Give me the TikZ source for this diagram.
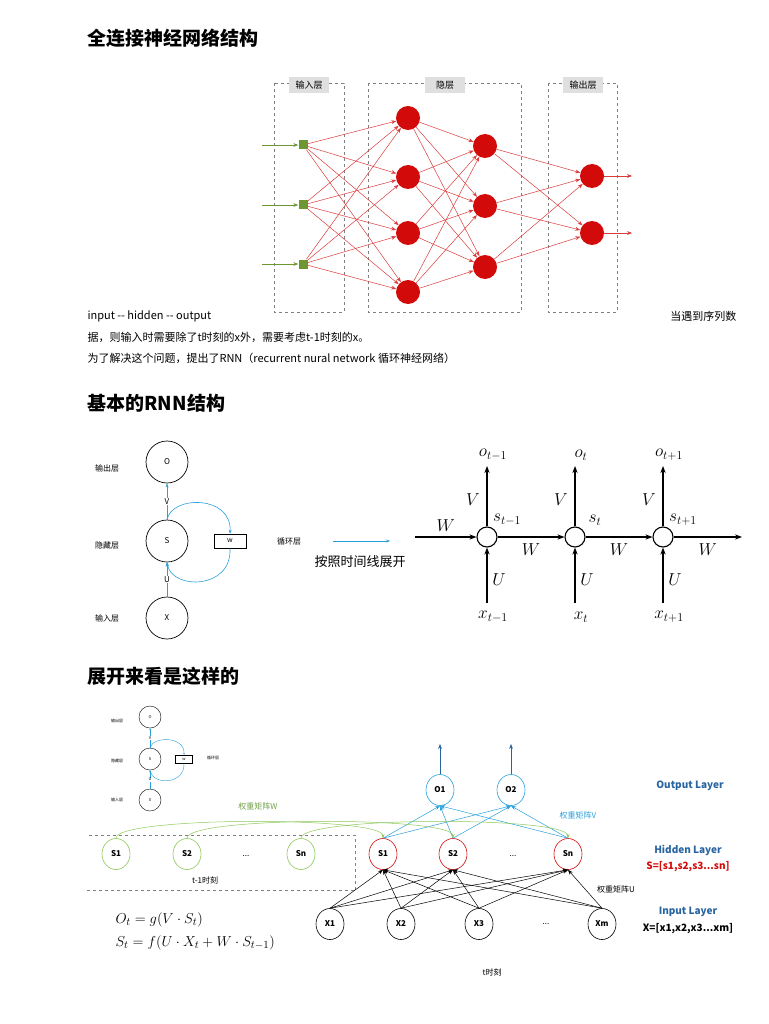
\documentclass[tikz,border=0pt]{standalone}
\usepackage{fontspec}
\setmainfont{Noto Sans CJK SC}
\usetikzlibrary{arrows.meta,shapes.geometric}
\definecolor{nred}{RGB}{210,10,10}
\definecolor{ngreen}{RGB}{110,150,50}
\definecolor{nblue}{RGB}{40,120,190}
\definecolor{ncyan}{RGB}{40,160,220}
\definecolor{lgreen}{RGB}{140,200,90}
\definecolor{ldark}{RGB}{40,100,160}
\tikzset{
 redn/.style={circle,fill=nred,minimum size=24pt,inner sep=0},
 inp/.style={rectangle,fill=ngreen,minimum size=9pt,inner sep=0},
 rl/.style={nred!80,line width=0.5pt,-{Stealth[length=5pt]}},
 lay/.style={draw=gray,dashed,line width=0.6pt},
 tab/.style={fill=gray!25,font=\fontsize{9}{10}\selectfont,minimum width=40pt,minimum height=16pt},
 circ/.style={circle,draw,line width=0.7pt,minimum size=42pt,inner sep=0,font=\fontsize{8}{9}\selectfont},
 bl/.style={ncyan,line width=0.6pt,-{Stealth[length=4pt]}},
 lbl/.style={font=\fontsize{8}{9}\selectfont},
 uc/.style={circle,draw,line width=1.1pt,minimum size=20pt,inner sep=0},
 ua/.style={line width=1.2pt,-{Stealth[length=7pt]}},
 mi/.style={font=\fontsize{17}{18}\selectfont},
 el/.style={ellipse,draw,line width=0.6pt,minimum width=28pt,minimum height=31pt,inner sep=0,font=\fontsize{8}{9}\selectfont\bfseries},
 ka/.style={line width=0.5pt,-{Stealth[length=5pt]}},
 sm/.style={circle,draw,line width=0.4pt,minimum size=22pt,inner sep=0,font=\fontsize{4}{5}\selectfont},
 tiny/.style={font=\fontsize{4}{5}\selectfont},
 lay2/.style={font=\fontsize{10}{12}\selectfont\bfseries,ldark},
}
\begin{document}
\begin{tikzpicture}[x=1pt,y=-1pt]
\useasboundingbox (0,0) rectangle (768,1024);
% headings
\node[anchor=west,font=\fontsize{19}{22}\selectfont\bfseries] (h1) at (84,38) {全连接神经网络结构};
\node[anchor=west,font=\fontsize{19}{22}\selectfont\bfseries] (h2) at (84,403) {基本的RNN结构};
\node[anchor=west,font=\fontsize{19}{22}\selectfont\bfseries] (h3) at (84,676) {展开来看是这样的};
\node[anchor=west,font=\fontsize{11}{13}\selectfont] (t1) at (84,316) {input {-}{-} hidden {-}{-} output};
\node[anchor=east,font=\fontsize{11}{13}\selectfont] (t2) at (740,316) {当遇到序列数};
\node[anchor=west,font=\fontsize{11}{13}\selectfont] (t3) at (84,337) {据，则输入时需要除了t时刻的x外，需要考虑t-1时刻的x。};
\node[anchor=west,font=\fontsize{11}{13}\selectfont] (t4) at (84,358) {为了解决这个问题，提出了RNN（recurrent nural network 循环神经网络）};
% fully connected
\draw[lay] (274,83) rectangle (344,312);
\draw[lay] (368,83) rectangle (521,312);
\draw[lay] (548,83) rectangle (617,312);
\node[tab] (ta) at (309,85) {输入层};
\node[tab] (tb) at (445,85) {隐层};
\node[tab] (tc) at (583,85) {输出层};
\foreach \i/\y in {1/145,2/205,3/264}{\node[inp] (a\i) at (303,\y) {};
 \coordinate (ai\i) at (262,\y);
 \draw[ngreen,line width=0.6pt,-{Stealth[length=5pt]}] (ai\i) -- (a\i);}
\foreach \i/\y in {1/118,2/177,3/233,4/292}{\node[redn] (b\i) at (408,\y) {};}
\foreach \i/\y in {1/146,2/206,3/267}{\node[redn] (c\i) at (485,\y) {};}
\foreach \i/\y in {1/176,2/233}{\node[redn] (d\i) at (592,\y) {};
 \coordinate (do\i) at (632,\y);
 \draw[rl] (d\i) -- (do\i);}
\foreach \i in {1,2,3}{\foreach \j in {1,2,3,4}{\draw[rl] (a\i) -- (b\j);}}
\foreach \i in {1,2,3,4}{\foreach \j in {1,2,3}{\draw[rl] (b\i) -- (c\j);}}
\foreach \i in {1,2,3}{\foreach \j in {1,2}{\draw[rl] (c\i) -- (d\j);}}
% folded RNN
\node[circ] (O) at (167,462) {O};
\node[circ] (S) at (167,541) {S};
\node[circ] (X) at (167,618) {X};
\node[draw,line width=0.6pt,minimum width=32pt,minimum height=14pt,inner sep=0,font=\fontsize{7}{8}\selectfont] (Wb) at (230,541) {w};
\node[lbl] (lo) at (107,468) {输出层};
\node[lbl] (ls) at (107,545) {隐藏层};
\node[lbl] (lx) at (107,618) {输入层};
\node[lbl] (lr) at (289,541) {循环层};
\draw[bl] (S) -- node[fill=white,inner sep=1pt,lbl,text=black]{V} (O);
\draw[bl] (X) -- node[fill=white,inner sep=1pt,lbl,text=black]{U} (S);
\draw[bl] (S.north) .. controls (172,495) and (232,495) .. (Wb.north);
\draw[bl] (Wb.south) .. controls (232,590) and (172,590) .. (S.south);
\coordinate (ra) at (333,541); \coordinate (rb) at (390,541);
\draw[ncyan,line width=0.5pt,-{Stealth[length=4pt]}] (ra) -- (rb);
\node[font=\fontsize{13}{15}\selectfont] (exp) at (360,562) {按照时间线展开};
% unfolded RNN
\foreach \i/\x/\s in {1/487/{t-1},2/575/{t},3/663/{t+1}}{
 \node[uc] (u\i) at (\x,537) {};
 \coordinate (ut\i) at (\x,466); \coordinate (ub\i) at (\x,603);
 \draw[ua] (u\i) -- (ut\i);
 \draw[ua] (ub\i) -- (u\i);
 \node[mi] (ol\i) at (\x+6,455) {$o_{\s}$};
 \node[mi] (xl\i) at (\x+6,617) {$x_{\s}$};
 \node[mi] (vl\i) at (\x-14,500) {$V$};
 \node[mi] (ul\i) at (\x+12,580) {$U$};
 \node[mi] (sl\i) at (\x+20,520) {$s_{\s}$};
}
\coordinate (w0) at (415,537); \coordinate (w4) at (742,537);
\draw[ua] (w0) -- node[mi,above=2pt]{$W$} (u1);
\draw[ua] (u1) -- node[mi,below=3pt]{$W$} (u2);
\draw[ua] (u2) -- node[mi,below=3pt]{$W$} (u3);
\draw[ua] (u3) -- node[mi,below=3pt]{$W$} (w4);
% small folded copy
\node[sm] (sO) at (150,717) {O};
\node[sm] (sS) at (150,759) {S};
\node[sm] (sX) at (150,800) {X};
\node[draw,line width=0.4pt,minimum width=17pt,minimum height=8pt,inner sep=0,tiny] (sW) at (184,759) {w};
\node[tiny] (slo) at (117,721) {输出层};
\node[tiny] (sls) at (117,761) {隐藏层};
\node[tiny] (slx) at (117,800) {输入层};
\node[tiny] (slr) at (213,758) {循环层};
\draw[ncyan,line width=0.4pt,-{Stealth[length=2pt]}] (sS) -- node[fill=white,inner sep=0.5pt,tiny,text=black]{V} (sO);
\draw[ncyan,line width=0.4pt,-{Stealth[length=2pt]}] (sX) -- node[fill=white,inner sep=0.5pt,tiny,text=black]{U} (sS);
\draw[ncyan,line width=0.4pt,-{Stealth[length=2pt]}] (sS.north) .. controls (153,736) and (185,736) .. (sW.north);
\draw[ncyan,line width=0.4pt,-{Stealth[length=2pt]}] (sW.south) .. controls (185,785) and (153,785) .. (sS.south);
% unfolded network
\draw[gray,dashed,line width=0.5pt] (355,890) -- (355,835) -- (87,835);
\draw[gray,dashed,line width=0.5pt] (87,890) -- (355,890);
\node[lbl] (tm1) at (205,880) {t-1时刻};
\node[el,draw=ncyan] (o1) at (440,790) {O1};
\node[el,draw=ncyan] (o2) at (511,790) {O2};
\coordinate (oa1) at (440,744); \coordinate (oa2) at (511,744);
\draw[ka,ldark] (o1) -- (oa1); \draw[ka,ldark] (o2) -- (oa2);
\foreach \n/\x/\t in {g1/116/S1,g2/187/S2,gn/301/Sn}{\node[el,draw=lgreen] (\n) at (\x,854) {\t};}
\foreach \n/\x/\t in {r1/383/S1,r2/453/S2,rn/568/Sn}{\node[el,draw=nred] (\n) at (\x,854) {\t};}
\node[lbl] (gd) at (246,856) {...};
\node[lbl] (rd) at (513,856) {...};
\foreach \n/\x/\t in {x1/330/X1,x2/401/X2,x3/479/X3,xm/602/Xm}{\node[el] (\n) at (\x,924) {\t};}
\node[lbl] (xd) at (546,924) {...};
\foreach \s in {r1,r2,rn}{\foreach \o in {o1,o2}{\draw[ka,ncyan] (\s.north) -- (\o.south);}}
\foreach \x in {x1,x2,x3,xm}{\foreach \s in {r1,r2,rn}{\draw[ka] (\x.north) -- (\s.south);}}
\foreach \g/\r in {g1/r1,g2/r2,gn/rn}{\draw[lgreen,line width=0.5pt,-{Stealth[length=4pt]}] (\g.north) .. controls ([yshift=22]\g.north) and ([yshift=22]\r.north) .. (\r.north);}
\node[lbl,lgreen!80!black] (wW) at (258,806) {权重矩阵W};
\node[lbl,ncyan] (wV) at (578,815) {权重矩阵V};
\node[lbl] (wU) at (616,889) {权重矩阵U};
\node[lbl] (tt) at (492,972) {t时刻};
\node[lay2] (L1) at (690,786) {Output Layer};
\node[lay2] (L2) at (688,850) {Hidden Layer};
\node[font=\fontsize{10}{12}\selectfont\bfseries,nred] (L2b) at (688,867) {S=[s1,s2,s3...sn]};
\node[lay2] (L3) at (688,912) {Input Layer};
\node[font=\fontsize{10}{12}\selectfont\bfseries] (L3b) at (688,929) {X=[x1,x2,x3...xm]};
\node[anchor=west,font=\fontsize{15}{17}\selectfont] (e1) at (112,920) {$O_t=g(V\cdot S_t)$};
\node[anchor=west,font=\fontsize{15}{17}\selectfont] (e2) at (112,943) {$S_t=f(U\cdot X_t+W\cdot S_{t-1})$};
\end{tikzpicture}
\end{document}
